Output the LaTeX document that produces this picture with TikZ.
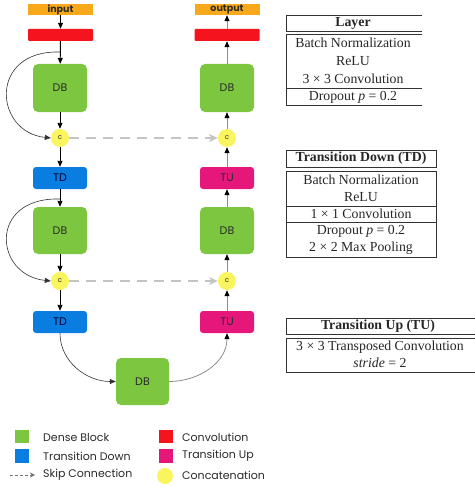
\documentclass[tikz,border=0pt]{standalone}
\usepackage{fontspec}
\setmainfont{Liberation Serif}
\newfontfamily\gfont{Poppins}
\usetikzlibrary{arrows.meta}
\definecolor{cin}{HTML}{F7A81B}
\definecolor{cconv}{HTML}{F5141E}
\definecolor{cdb}{HTML}{7DC63F}
\definecolor{ctd}{HTML}{0A7DE0}
\definecolor{ctu}{HTML}{E6177A}
\definecolor{ccat}{HTML}{FAF55E}
\definecolor{cskip}{HTML}{C4C4C4}
\definecolor{ctxt}{HTML}{2A2A2A}
\definecolor{crule}{HTML}{333333}
\tikzset{
  box/.style={draw=none, minimum width=54pt, font=\gfont\fontsize{11}{12}\selectfont, text=ctxt},
  dbbox/.style={box, fill=cdb, minimum height=48pt, rounded corners=5pt},
  tdbox/.style={box, fill=ctd, minimum height=22pt, rounded corners=3pt, text=black!80!blue},
  tubox/.style={box, fill=ctu, minimum height=22pt, rounded corners=3pt},
  convbox/.style={fill=cconv, minimum width=65pt, minimum height=12pt, inner sep=0pt, rounded corners=1pt},
  iobox/.style={fill=cin, minimum width=65pt, minimum height=11pt, inner sep=0pt, font=\gfont\bfseries\fontsize{9.5}{9}\selectfont, text=ctxt},
  catnode/.style={circle, fill=ccat, minimum size=18pt, inner sep=0pt, font=\gfont\fontsize{7}{7}\selectfont, text=ctxt},
  fwd/.style={-{Triangle[length=6pt,width=5pt]}, line width=0.9pt, black},
  bwd/.style={-{Triangle[length=6pt,width=5pt,color=black]}, line width=0.8pt, draw=black!45},
  skiparc/.style={-{Triangle[length=6pt,width=5pt]}, line width=0.6pt, black!80},
  skipline/.style={-{Stealth[length=9pt,width=8pt]}, line width=2.5pt, cskip, dash pattern=on 10pt off 7pt},
  legsq/.style={minimum width=14pt, minimum height=13pt, inner sep=0pt},
  legtxt/.style={anchor=west, font=\gfont\fontsize{11}{12}\selectfont, text=ctxt, inner sep=0pt},
  tbl/.style={draw=crule, line width=0.8pt},
  ttxt/.style={font=\fontsize{13.8}{15}\selectfont, inner sep=0pt, text=black!85},
  thead/.style={font=\bfseries\fontsize{13.8}{15}\selectfont, inner sep=0pt, text=black!85}
}
\begin{document}
\begin{tikzpicture}[x=1pt, y=-1pt]
\useasboundingbox (0,0) rectangle (474,487);
% left column
\node[iobox] (inp) at (60.5,9.5) {input};
\node[convbox] (convL) at (60.5,35) {};
\node[dbbox] (dbL1) at (60,88) {DB};
\node[catnode] (cL1) at (60,138) {c};
\node[tdbox] (td1) at (60,178) {TD};
\node[dbbox, minimum height=47pt] (dbL2) at (60,230.5) {DB};
\node[catnode] (cL2) at (60,281) {c};
\node[tdbox] (td2) at (60,322) {TD};
% bottom
\node[dbbox, minimum width=53pt, minimum height=47pt] (dbB) at (142.5,381.5) {DB};
% right column
\node[iobox] (outp) at (227,9.5) {output};
\node[convbox] (convR) at (227,35) {};
\node[dbbox] (dbR1) at (227,88) {DB};
\node[catnode] (cR1) at (227,138) {c};
\node[tubox] (tu1) at (227,178) {TU};
\node[dbbox, minimum height=47pt] (dbR2) at (227,230.5) {DB};
\node[catnode] (cR2) at (227,281) {c};
\node[tubox] (tu2) at (227,322) {TU};
% forward arrows
\draw[fwd] (inp) -- (convL);
\draw[fwd] (convL) -- (dbL1);
\draw[fwd] (dbL1) -- (cL1);
\draw[fwd] (cL1) -- (td1);
\draw[fwd] (td1) -- (dbL2);
\draw[fwd] (dbL2) -- (cL2);
\draw[fwd] (cL2) -- (td2);
\draw[skiparc] (td2.south) to[out=-90, in=180] (dbB.west);
\draw[bwd] (dbB.east) to[out=0, in=-90] (tu2.south);
\draw[bwd] (tu2) -- (cR2);
\draw[bwd] (cR2) -- (dbR2);
\draw[bwd] (dbR2) -- (tu1);
\draw[bwd] (tu1) -- (cR1);
\draw[bwd] (cR1) -- (dbR1);
\draw[bwd] (dbR1) -- (convR);
\draw[bwd] (convR) -- (outp);
% skip arcs
\coordinate (s1) at (60,52);
\coordinate (s2) at (60,199);
\draw[skiparc] (s1) .. controls (-12,50) and (-6,132) .. (cL1.west);
\draw[skiparc] (s2) .. controls (-12,197) and (-6,275) .. (cL2.west);
% skip connections
\draw[skipline] (cL1.east) -- (cR1.west);
\draw[skipline] (cL2.east) -- (cR2.west);
% legend
\node[legsq, fill=cdb] (lg1) at (22,436.5) {};
\node[legtxt] (lt1) at (43,437) {Dense Block};
\node[legsq, fill=ctd, minimum height=14pt] (lg2) at (22,456) {};
\node[legtxt] (lt2) at (43,456) {Transition Down};
\coordinate (la) at (10,475);
\coordinate (lb) at (35,475);
\draw[-{Stealth[length=5pt,width=5pt]}, line width=0.6pt, black!55, dash pattern=on 3pt off 2pt] (la) -- (lb);
\node[legtxt] (lt3) at (43,475) {Skip Connection};
\node[legsq, fill=cconv] (lg4) at (166,436.5) {};
\node[legtxt] (lt4) at (182,437) {Convolution};
\node[legsq, fill=ctu, minimum height=14pt] (lg5) at (166,456) {};
\node[legtxt] (lt5) at (182,456) {Transition Up};
\node[circle, fill=ccat, minimum size=16pt, inner sep=0pt] (lg6) at (165,476) {};
\node[legtxt] (lt6) at (182,475) {Concatenation};
% Layer table
\draw[tbl] (422,15) -- (286,15) -- (286,31) -- (422,31);
\draw[tbl] (422,34) -- (286,34) -- (286,105) -- (422,105);
\draw[tbl] (286,88) -- (422,88);
\node[thead] (t1h) at (353,23) {Layer};
\node[ttxt] (t1a) at (353,43) {Batch Normalization};
\node[ttxt] (t1b) at (353,61) {ReLU};
\node[ttxt] (t1c) at (353,79) {3 × 3 Convolution};
\node[ttxt] (t1d) at (353,97) {Dropout \textit{p} = 0.2};
% TD table
\draw[tbl] (286,150) rectangle (436,167);
\draw[tbl] (286,171) rectangle (436,257);
\draw[tbl] (286,206) -- (436,206);
\draw[tbl] (286,222) -- (436,222);
\node[thead] (t2h) at (361,158) {Transition Down (TD)};
\node[ttxt] (t2a) at (361,180) {Batch Normalization};
\node[ttxt] (t2b) at (361,197) {ReLU};
\node[ttxt] (t2c) at (361,214) {1 × 1 Convolution};
\node[ttxt] (t2d) at (361,231) {Dropout \textit{p} = 0.2};
\node[ttxt] (t2e) at (361,248) {2 × 2 Max Pooling};
% TU table
\draw[tbl] (286,318) rectangle (480,334);
\draw[tbl] (286,338) rectangle (480,372);
\node[thead] (t3h) at (378,326) {Transition Up (TU)};
\node[ttxt] (t3a) at (380,347) {3 × 3 Transposed Convolution};
\node[ttxt] (t3b) at (380,363) {\textit{stride} = 2};
\end{tikzpicture}
\end{document}
